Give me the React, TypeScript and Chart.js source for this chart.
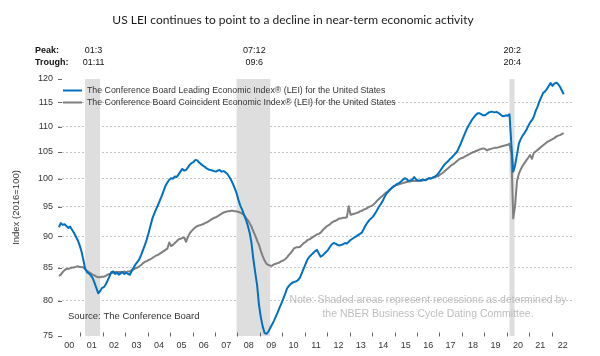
import React, { useEffect, useRef } from "react";
import { Chart, registerables } from "chart.js";

Chart.register(...registerables);

const TITLE = "US LEI continues to point to a decline in near-term economic activity";
const LEI_LABEL = "The Conference Board Leading Economic Index® (LEI) for the United States";
const CEI_LABEL = "The Conference Board Coincident Economic Index® (LEI) for the United States";
const Y_TITLE = "Index (2016=100)";
const SOURCE = "Source: The Conference Board";
const NOTE_LINES = [
  "Note: Shaded areas represent recessions as determined by",
  "the NBER Business Cycle Dating Committee.",
];
const PEAK_TITLE = "Peak:";
const TROUGH_TITLE = "Trough:";
const PEAKS = ["01:3", "07:12", "20:2"];
const TROUGHS = ["01:11", "09:6", "20:4"];

const START_YEAR = 2000;
const END_YEAR = 2023;
const YEAR_LABELS = ["00", "01", "02", "03", "04", "05", "06", "07", "08", "09", "10", "11", "12", "13", "14", "15", "16", "17", "18", "19", "20", "21", "22"];
const Y_TICKS = [75, 80, 85, 90, 95, 100, 105, 110, 115, 120];

// Leading Economic Index, monthly, one row per year (2000 ... 2022)
const LEI: number[][] = [
  [91.5, 92.2, 91.9, 92.0, 91.7, 91.4, 91.6, 91.1, 90.6, 90.0, 89.4, 88.6],
  [87.6, 86.3, 84.8, 84.3, 84.1, 83.8, 83.4, 82.7, 81.9, 81.1, 81.4, 81.9],
  [82.0, 82.4, 83.0, 83.6, 84.3, 84.4, 84.0, 84.2, 83.9, 84.1, 84.3, 84.0],
  [84.2, 84.0, 83.9, 84.5, 85.0, 85.5, 85.9, 86.3, 87.0, 87.8, 88.6, 89.5],
  [90.6, 91.8, 93.0, 93.8, 94.6, 95.3, 96.1, 96.9, 97.8, 98.7, 99.3, 99.8],
  [100.1, 100.0, 100.4, 100.3, 100.8, 101.3, 101.8, 101.5, 101.6, 102.1, 102.6, 102.9],
  [103.1, 103.5, 103.4, 103.0, 102.7, 102.4, 102.2, 101.9, 101.7, 101.6, 101.5, 101.4],
  [101.3, 101.5, 101.6, 101.3, 101.4, 101.2, 100.9, 100.4, 99.8, 99.1, 98.3, 97.4],
  [96.2, 95.2, 94.5, 93.6, 92.8, 91.8, 90.6, 88.9, 86.3, 84.2, 82.3, 79.4],
  [77.6, 76.3, 75.4, 75.3, 75.6, 76.1, 76.6, 77.1, 77.7, 78.3, 79.0, 79.6],
  [80.3, 81.0, 81.8, 82.2, 82.5, 82.7, 82.8, 82.9, 83.1, 83.5, 84.2, 84.9],
  [85.6, 86.3, 86.7, 87.0, 87.3, 87.6, 87.8, 87.2, 86.7, 86.9, 87.2, 87.5],
  [87.8, 88.3, 88.7, 88.9, 88.8, 88.6, 88.5, 88.6, 88.7, 88.9, 88.8, 89.1],
  [89.4, 89.6, 89.8, 90.0, 90.2, 90.4, 90.6, 91.2, 91.8, 92.3, 92.7, 93.0],
  [93.3, 93.8, 94.3, 94.9, 95.4, 95.9, 96.6, 97.2, 97.6, 98.0, 98.3, 98.6],
  [98.8, 99.1, 99.2, 99.5, 99.8, 100.1, 99.9, 99.6, 99.7, 99.8, 100.3, 99.9],
  [99.7, 99.6, 99.8, 99.8, 99.7, 99.9, 100.1, 100.0, 100.2, 100.4, 100.6, 101.0],
  [101.5, 102.0, 102.5, 102.9, 103.2, 103.6, 103.9, 104.3, 104.7, 105.1, 105.9, 106.7],
  [107.6, 108.5, 109.4, 110.1, 110.8, 111.4, 111.9, 112.4, 112.7, 112.7, 112.5, 112.3],
  [112.3, 112.6, 112.9, 113.0, 113.0, 112.9, 113.0, 112.8, 112.5, 112.2, 112.1, 112.3],
  [112.2, 112.5, 106.5, 101.3, 102.5, 104.5, 106.6, 107.5, 108.2, 108.7, 109.3, 110.1],
  [110.8, 111.3, 112.0, 113.2, 114.1, 115.2, 116.1, 117.0, 117.3, 117.8, 118.5, 119.1],
  [118.5, 119.0, 119.2, 118.9, 118.3, 117.5, 116.7],
];

// Coincident Economic Index, monthly, one row per year (2000 ... 2022)
const CEI: number[][] = [
  [83.7, 83.9, 84.3, 84.6, 84.8, 84.8, 84.9, 85.0, 85.0, 85.1, 85.2, 85.1],
  [85.1, 85.0, 84.8, 84.5, 84.3, 84.1, 83.9, 83.8, 83.6, 83.5, 83.5, 83.6],
  [83.6, 83.7, 83.9, 84.0, 84.1, 84.2, 84.3, 84.3, 84.3, 84.3, 84.3, 84.4],
  [84.3, 84.4, 84.4, 84.6, 84.7, 84.9, 85.0, 85.2, 85.4, 85.7, 85.9, 86.0],
  [86.2, 86.3, 86.5, 86.7, 86.9, 87.0, 87.2, 87.4, 87.6, 87.8, 88.0, 89.0],
  [88.4, 88.6, 88.9, 89.2, 89.5, 89.6, 89.7, 89.8, 89.1, 89.9, 90.5, 90.9],
  [91.2, 91.5, 91.7, 91.8, 91.9, 92.0, 92.2, 92.3, 92.5, 92.7, 92.9, 93.1],
  [93.2, 93.4, 93.6, 93.8, 94.0, 94.1, 94.2, 94.2, 94.3, 94.3, 94.2, 94.2],
  [94.1, 94.0, 93.8, 93.6, 93.1, 92.7, 92.2, 91.6, 90.8, 90.1, 89.3, 88.6],
  [87.6, 86.8, 86.1, 85.6, 85.4, 85.3, 85.3, 85.5, 85.6, 85.7, 85.8, 86.0],
  [86.1, 86.3, 86.6, 87.0, 87.3, 87.7, 88.1, 88.2, 88.2, 88.3, 88.6, 88.9],
  [89.1, 89.4, 89.5, 89.7, 89.9, 90.1, 90.3, 90.4, 90.6, 91.0, 91.3, 91.6],
  [91.8, 92.0, 92.3, 92.5, 92.6, 92.8, 93.0, 93.0, 93.1, 93.1, 93.2, 95.1],
  [93.6, 93.7, 93.8, 93.9, 94.0, 94.2, 94.3, 94.5, 94.6, 94.8, 95.0, 95.1],
  [95.3, 95.6, 96.0, 96.3, 96.6, 96.9, 97.2, 97.5, 97.7, 98.0, 98.3, 98.6],
  [98.8, 98.9, 99.0, 99.1, 99.2, 99.3, 99.4, 99.5, 99.5, 99.6, 99.6, 99.6],
  [99.6, 99.7, 99.6, 99.7, 99.8, 99.9, 100.1, 100.1, 100.2, 100.3, 100.4, 100.5],
  [100.8, 101.0, 101.3, 101.6, 101.9, 102.2, 102.5, 102.7, 103.0, 103.3, 103.6, 103.8],
  [103.9, 104.1, 104.3, 104.5, 104.7, 104.9, 105.0, 105.2, 105.3, 105.5, 105.6, 105.7],
  [105.6, 105.3, 105.5, 105.6, 105.7, 105.8, 105.8, 105.9, 106.0, 106.1, 106.2, 106.3],
  [106.4, 106.6, 104.6, 93.0, 95.2, 99.6, 100.9, 101.7, 102.4, 102.9, 103.4, 103.9],
  [104.4, 103.7, 104.8, 105.1, 105.4, 105.7, 106.0, 106.3, 106.6, 106.9, 107.1, 107.3],
  [107.5, 107.7, 108.0, 108.2, 108.3, 108.5, 108.7],
];

const BLUE = "#0070C0";
const GRAY = "#7F7F7F";
const TEXT = "#333333";
const ARIAL = "'Liberation Sans', Arial, sans-serif";

function monthly(rows: number[][]) {
  const out: { x: number; y: number }[] = [];
  rows.forEach((row, yi) =>
    row.forEach((v, mi) => out.push({ x: START_YEAR + yi + (mi + 0.5) / 12, y: v }))
  );
  return out;
}

function dateValue(s: string) {
  const [yy, mm] = s.split(":").map(Number);
  return START_YEAR + yy + (mm - 0.5) / 12;
}

const overlay = {
  id: "overlay",
  beforeDatasetsDraw(chart: any) {
    const { ctx, chartArea: a } = chart;
    const x = chart.scales.x;
    ctx.save();
    ctx.fillStyle = "#DEDEDE";
    PEAKS.forEach((p, i) => {
      const x0 = x.getPixelForValue(dateValue(p));
      const x1 = x.getPixelForValue(dateValue(TROUGHS[i]));
      ctx.fillRect(x0, a.top, Math.max(x1 - x0, 5), a.bottom - a.top);
    });
    ctx.restore();
  },
  afterDraw(chart: any) {
    const { ctx, chartArea: a } = chart;
    const x = chart.scales.x;
    const y = chart.scales.y;
    ctx.save();

    // tick marks (inside the plot)
    ctx.strokeStyle = "#666666";
    ctx.lineWidth = 1;
    ctx.beginPath();
    for (let yr = START_YEAR + 1; yr < END_YEAR; yr++) {
      const px = Math.round(x.getPixelForValue(yr)) + 0.5;
      ctx.moveTo(px, a.bottom - 3.5);
      ctx.lineTo(px, a.bottom + 0.5);
    }
    Y_TICKS.forEach((v) => {
      const py = Math.round(y.getPixelForValue(v)) + 0.5;
      ctx.moveTo(a.left, py);
      ctx.lineTo(a.left + 4, py);
    });
    ctx.stroke();

    // title
    ctx.fillStyle = "#1A1A1A";
    ctx.font = "12px Lato, 'Open Sans', sans-serif";
    ctx.textAlign = "center";
    ctx.textBaseline = "middle";
    ctx.fillText(TITLE, chart.width / 2 - 7, 20);

    // peak / trough labels
    ctx.fillStyle = "#111111";
    ctx.textAlign = "left";
    ctx.font = `bold 9px ${ARIAL}`;
    ctx.fillText(PEAK_TITLE, 35, 51);
    ctx.fillText(TROUGH_TITLE, 35, 63);
    ctx.font = `9px ${ARIAL}`;
    ctx.textAlign = "center";
    PEAKS.forEach((p, i) => {
      const cx = (x.getPixelForValue(dateValue(p)) + x.getPixelForValue(dateValue(TROUGHS[i]))) / 2 + 1;
      ctx.fillText(p, cx, 51);
      ctx.fillText(TROUGHS[i], cx, 63);
    });

    // legend
    ctx.textAlign = "left";
    ctx.font = `8.8px ${ARIAL}`;
    chart.data.datasets.forEach((ds: any, i: number) => {
      const ly = a.top + 11.5 + i * 12;
      ctx.strokeStyle = ds.borderColor;
      ctx.lineWidth = 2;
      ctx.beginPath();
      ctx.moveTo(a.left + 5, ly);
      ctx.lineTo(a.left + 24, ly);
      ctx.stroke();
      ctx.fillStyle = TEXT;
      ctx.fillText(ds.label, a.left + 29, ly);
    });

    // source
    ctx.fillStyle = TEXT;
    ctx.font = `9.5px ${ARIAL}`;
    ctx.fillText(SOURCE, a.left + 10, 316);

    // note
    ctx.fillStyle = "#BDBDBD";
    ctx.font = `10.5px ${ARIAL}`;
    ctx.textAlign = "center";
    NOTE_LINES.forEach((t, i) => ctx.fillText(t, 428, 300 + i * 14.5));

    ctx.restore();
  },
};

export default function App() {
  const ref = useRef<HTMLCanvasElement>(null);

  useEffect(() => {
    if (!ref.current) return;
    const chart = new Chart(ref.current, {
      type: "line",
      data: {
        datasets: [
          {
            label: LEI_LABEL,
            data: monthly(LEI),
            borderColor: BLUE,
            borderWidth: 2,
            pointRadius: 0,
            tension: 0,
            borderJoinStyle: "round",
          },
          {
            label: CEI_LABEL,
            data: monthly(CEI),
            borderColor: GRAY,
            borderWidth: 2,
            pointRadius: 0,
            tension: 0,
            borderJoinStyle: "round",
          },
        ],
      },
      options: {
        animation: false,
        responsive: false,
        events: [],
        layout: { padding: { top: 79, right: 26, left: 0, bottom: 0 } },
        plugins: {
          legend: { display: false },
          tooltip: { enabled: false },
          title: { display: false },
        },
        scales: {
          x: {
            type: "linear",
            min: START_YEAR,
            max: END_YEAR,
            grid: { display: false, drawTicks: false },
            border: { display: false },
            afterBuildTicks: (scale: any) => {
              scale.ticks = YEAR_LABELS.map((_, i) => ({ value: START_YEAR + i + 0.5 }));
            },
            afterFit: (scale: any) => {
              scale.height = 20;
            },
            ticks: {
              autoSkip: false,
              maxRotation: 0,
              padding: 4,
              color: TEXT,
              font: { family: ARIAL, size: 9 },
              callback: (v: any) => YEAR_LABELS[Math.round(Number(v) - 0.5 - START_YEAR)],
            },
          },
          y: {
            type: "logarithmic",
            min: 75,
            max: 120,
            afterBuildTicks: (scale: any) => {
              scale.ticks = Y_TICKS.map((v) => ({ value: v }));
            },
            afterFit: (scale: any) => {
              scale.width = 58;
            },
            border: { display: false, dash: [2, 2] },
            grid: {
              drawTicks: false,
              lineWidth: 1,
              color: (c: any) =>
                c.tick && (c.tick.value === 75 || c.tick.value === 120) ? "rgba(0,0,0,0)" : "#C4C4C4",
            },
            ticks: {
              padding: 5,
              color: TEXT,
              font: { family: ARIAL, size: 9 },
              callback: (v: any) => String(v),
            },
            title: {
              display: true,
              text: Y_TITLE,
              color: TEXT,
              font: { family: ARIAL, size: 9.5 },
              padding: { top: 11, bottom: 0 },
            },
          },
        },
      } as any,
      plugins: [overlay],
    });
    return () => chart.destroy();
  }, []);

  return (
    <div style={{ position: "absolute", left: 0, top: 0, width: 600, height: 356, background: "#fff" }}>
      <canvas ref={ref} width={600} height={356} />
    </div>
  );
}
